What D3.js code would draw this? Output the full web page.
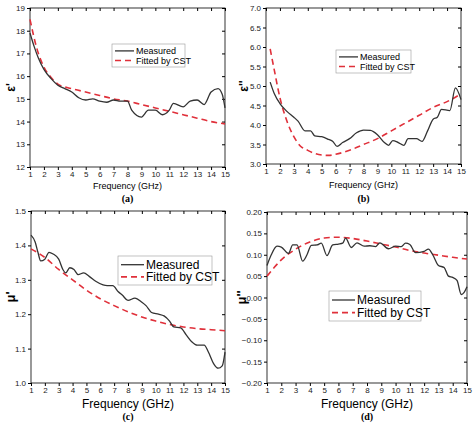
<!DOCTYPE html>
<html><head><meta charset="utf-8">
<script src="https://cdn.jsdelivr.net/npm/d3@7"></script>
<style>body{margin:0;background:#fff}svg{font-family:"Liberation Sans",Arial,sans-serif}</style>
</head><body><svg id="c" width="474" height="423"></svg>
<script>
const xTicks=[1,2,3,4,5,6,7,8,9,10,11,12,13,14,15];
const aMeasX=[1,1.3,1.6,2,2.5,3,3.5,4,4.5,5,5.5,6,6.5,7,7.5,8,8.3,9,9.5,10,10.5,11,11.3,12,12.5,13,13.5,14,14.5,14.8,15];
const aMeasY=[17.9,17.3,16.8,16.3,15.9,15.6,15.45,15.3,15.05,14.95,15.0,14.9,14.85,14.95,14.9,14.9,14.5,14.2,14.5,14.5,14.3,14.5,14.8,14.65,14.9,14.95,14.75,15.3,15.45,15.2,14.6];
const aFitX=[1,1.5,2,2.5,3,4,5,6,7,8,9,10,11,12,13,14,15];
const aFitY=[18.5,17.2,16.4,15.95,15.65,15.45,15.3,15.15,15.0,14.9,14.75,14.6,14.45,14.3,14.15,14.0,13.9];
const bMeasX=[1.3,1.6,2,2.5,3,3.3,3.8,4.2,4.5,5,5.5,5.8,6.1,6.5,7,7.5,8,8.5,9,9.5,9.8,10.1,10.5,10.9,11.2,11.8,12.2,12.6,13,13.3,13.6,14.2,14.6,15];
const bMeasY=[5.1,4.8,4.55,4.35,4.2,4.1,3.85,3.85,3.72,3.7,3.63,3.58,3.45,3.55,3.65,3.8,3.87,3.86,3.75,3.55,3.48,3.6,3.55,3.48,3.65,3.65,3.58,3.85,4.15,4.2,4.4,4.37,4.95,4.65];
const bFitX=[1.3,1.6,2,2.5,3,3.5,4,4.5,5,5.5,6,7,8,9,10,11,12,13,14,15];
const bFitY=[5.95,5.4,4.7,4.1,3.7,3.45,3.35,3.27,3.23,3.22,3.25,3.35,3.5,3.65,3.85,4.05,4.25,4.45,4.6,4.8];
const cMeasX=[1,1.3,1.5,1.7,2,2.3,2.6,3,3.3,3.5,3.8,4.1,4.4,4.8,5.2,5.7,6.2,6.5,6.9,7.3,7.6,8,8.5,9,9.3,9.7,10.2,10.6,11,11.3,11.8,12.2,12.6,13,13.5,13.8,14.2,14.5,14.8,15];
const cMeasY=[1.43,1.41,1.38,1.355,1.36,1.38,1.375,1.36,1.33,1.32,1.335,1.33,1.315,1.32,1.31,1.295,1.285,1.283,1.283,1.265,1.255,1.24,1.247,1.235,1.225,1.205,1.2,1.195,1.18,1.163,1.16,1.14,1.12,1.11,1.11,1.09,1.055,1.043,1.05,1.09];
const cFitX=[1,2,3,4,5,6,7,8,9,10,11,12,13,14,15];
const cFitY=[1.39,1.365,1.33,1.3,1.27,1.245,1.225,1.207,1.192,1.18,1.17,1.163,1.158,1.155,1.152];
const dMeasX=[1,1.3,1.7,2,2.5,2.8,3.1,3.5,3.8,4.1,4.5,4.8,5.2,5.6,6,6.3,6.5,6.9,7.3,7.8,8.2,8.6,8.9,9.5,10,10.4,10.7,11,11.4,12,12.3,12.6,13,13.4,13.7,14,14.3,14.6,14.8,15];
const dMeasY=[0.075,0.1,0.12,0.118,0.103,0.123,0.123,0.085,0.1,0.122,0.123,0.127,0.098,0.123,0.125,0.127,0.139,0.117,0.128,0.12,0.121,0.119,0.128,0.114,0.12,0.119,0.127,0.124,0.105,0.108,0.113,0.1,0.075,0.07,0.05,0.047,0.04,0.007,0.012,0.025];
const dFitX=[1,1.5,2,3,4,5,6,7,8,9,10,11,12,13,14,15];
const dFitY=[0.05,0.07,0.088,0.113,0.13,0.139,0.141,0.138,0.132,0.125,0.118,0.11,0.104,0.099,0.094,0.09];
const aYT=[12,13,14,15,16,17,18,19], bYT=[3,3.5,4,4.5,5,5.5,6,6.5,7], cYT=[1.0,1.1,1.2,1.3,1.4,1.5], dYT=[-0.2,-0.15,-0.1,-0.05,0,0.05,0.1,0.15,0.2];

const svg=d3.select("#c");
function panel(o){
  const x=d3.scaleLinear().domain([1,15]).range([o.l,o.r]);
  const y=d3.scaleLinear().domain(o.yd).range([o.b,o.t]);
  const g=svg.append("g");
  g.append("rect").attr("x",o.l).attr("y",o.t).attr("width",o.r-o.l).attr("height",o.b-o.t).attr("fill","none").attr("stroke","#000").attr("stroke-width",0.8);
  g.append("g").attr("transform",`translate(0,${o.b})`).call(d3.axisBottom(x).tickValues(xTicks).tickSize(3).tickPadding(1).tickFormat(d3.format("d")));
  g.append("g").attr("transform",`translate(${o.l},0)`).call(d3.axisLeft(y).tickValues(o.yt).tickSize(3).tickPadding(2).tickFormat(d3.format(o.fmt)));
  g.append("g").attr("transform",`translate(0,${o.t})`).call(d3.axisBottom(x).tickValues(xTicks).tickSize(3).tickFormat(""));
  g.append("g").attr("transform",`translate(${o.r},0)`).call(d3.axisLeft(y).tickValues(o.yt).tickSize(3).tickFormat(""));
  g.selectAll(".domain").remove();
  g.selectAll("text").attr("font-size",8).attr("fill","#222");
  const line=d3.line().x(d=>x(d[0])).y(d=>y(d[1])).curve(d3.curveMonotoneX);
  g.append("path").datum(o.fx.map((v,i)=>[v,o.fy[i]])).attr("d",line).attr("fill","none").attr("stroke","#e0303a").attr("stroke-width",1.6).attr("stroke-dasharray","6,4");
  g.append("path").datum(o.mx.map((v,i)=>[v,o.my[i]])).attr("d",line).attr("fill","none").attr("stroke","#333").attr("stroke-width",1.3);
  const L=o.leg;
  g.append("rect").attr("x",L.x).attr("y",L.y).attr("width",L.w).attr("height",L.h).attr("fill","#fff").attr("stroke","#999").attr("stroke-width",0.6);
  const fs=L.fs, ly1=L.y+L.h*0.3, ly2=L.y+L.h*0.72;
  g.append("line").attr("x1",L.x+3).attr("x2",L.x+L.ll).attr("y1",ly1).attr("y2",ly1).attr("stroke","#333").attr("stroke-width",1.3);
  g.append("line").attr("x1",L.x+3).attr("x2",L.x+L.ll).attr("y1",ly2).attr("y2",ly2).attr("stroke","#e0303a").attr("stroke-width",1.6).attr("stroke-dasharray","6,4");
  g.append("text").attr("x",L.x+L.ll+2).attr("y",ly1).attr("dy","0.35em").attr("font-size",fs).text("Measured");
  g.append("text").attr("x",L.x+L.ll+2).attr("y",ly2).attr("dy","0.35em").attr("font-size",fs).text("Fitted by CST");
  g.append("text").attr("x",(o.l+o.r)/2).attr("y",o.xly).attr("text-anchor","middle").attr("font-size",o.xfs).text("Frequency (GHz)");
  g.append("text").attr("x",(o.l+o.r)/2).attr("y",o.tly).attr("text-anchor","middle").attr("font-size",10).attr("font-weight","bold").attr("font-family","Liberation Serif,serif").text(o.tag);
  g.append("text").attr("transform",`translate(${o.yx},${(o.t+o.b)/2}) rotate(-90)`).attr("text-anchor","middle").attr("font-size",o.yfs).attr("font-weight","bold").text(o.ylab);
}
panel({l:30,r:225,t:8,b:167,yd:[12,19],yt:aYT,fmt:"d",mx:aMeasX,my:aMeasY,fx:aFitX,fy:aFitY,leg:{x:112,y:44,w:73,h:23,ll:22,fs:9},xly:189,tly:202,xfs:9,tag:"(a)",yx:15,ylab:"ε'",yfs:12});
panel({l:266,r:461,t:8,b:164,yd:[3,7],yt:bYT,fmt:".1f",mx:bMeasX,my:bMeasY,fx:bFitX,fy:bFitY,leg:{x:336,y:50,w:75,h:23,ll:22,fs:9},xly:188,tly:202,xfs:9,tag:"(b)",yx:248,ylab:"ε''",yfs:12});
panel({l:31,r:225,t:211,b:383,yd:[1.0,1.5],yt:cYT,fmt:".1f",mx:cMeasX,my:cMeasY,fx:cFitX,fy:cFitY,leg:{x:118,y:256,w:94,h:29,ll:26,fs:12},xly:408,tly:420,xfs:12,tag:"(c)",yx:15,ylab:"μ'",yfs:13});
panel({l:267,r:467,t:212,b:383,yd:[-0.2,0.2],yt:dYT,fmt:".2f",mx:dMeasX,my:dMeasY,fx:dFitX,fy:dFitY,leg:{x:329,y:291,w:92,h:30,ll:26,fs:12},xly:408,tly:420,xfs:12,tag:"(d)",yx:246,ylab:"μ''",yfs:13});
</script></body></html>
